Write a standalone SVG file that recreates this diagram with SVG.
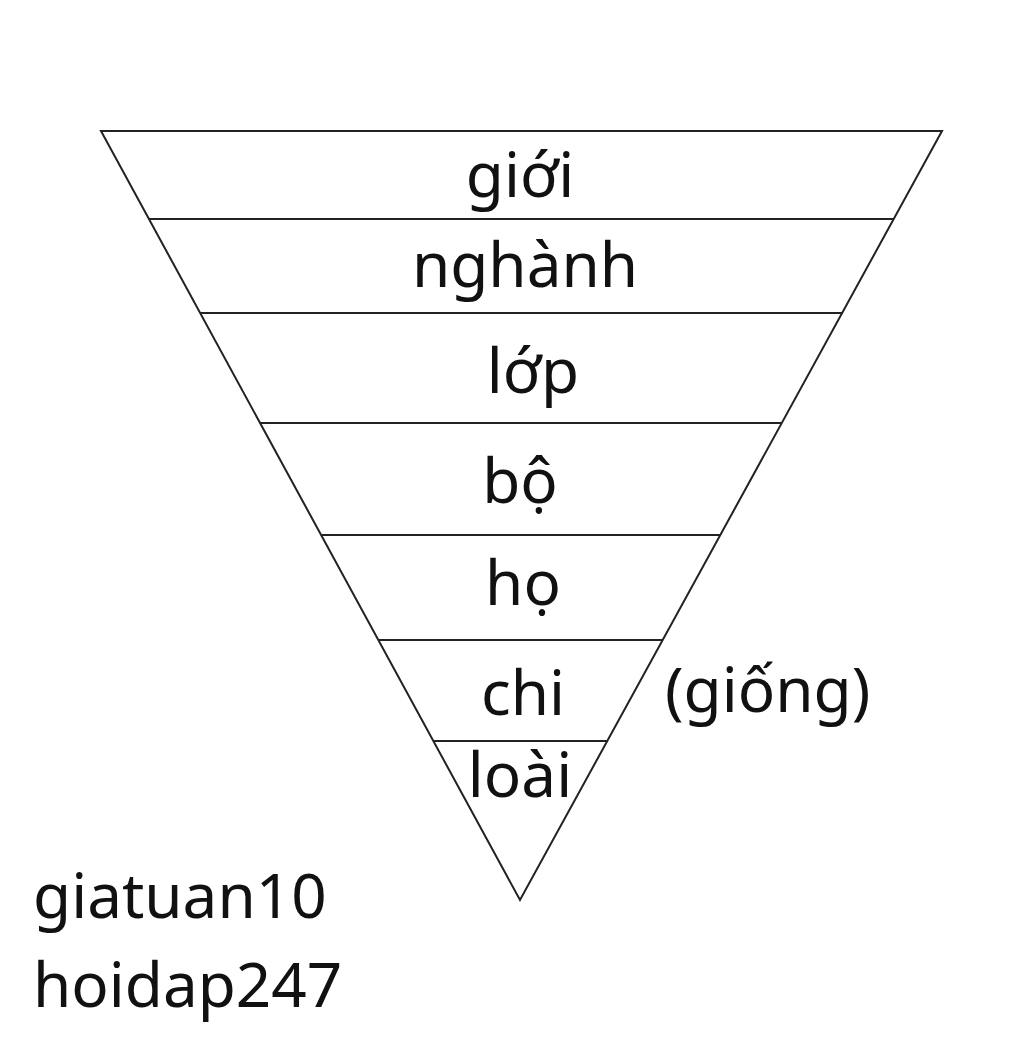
<svg xmlns="http://www.w3.org/2000/svg" width="1024" height="1058" viewBox="0 0 1024 1058">
<style>
.ln{stroke:#222;stroke-width:2;fill:none}
.t{font-family:"Noto Sans","Open Sans","DejaVu Sans",sans-serif;font-size:62px;fill:#111;text-anchor:middle}
.s{font-family:"Noto Sans","Open Sans","DejaVu Sans",sans-serif;font-size:62px;fill:#111}
</style>
<rect width="1024" height="1058" fill="#fff"/>
<g id="pyramid">
<polygon class="ln" points="101,131 942,131 520,900"/>
</g>
<g id="connectors">
<line class="ln" x1="149" y1="219" x2="894" y2="219"/>
<line class="ln" x1="200" y1="313" x2="843" y2="313"/>
<line class="ln" x1="260" y1="423" x2="782" y2="423"/>
<line class="ln" x1="322" y1="535" x2="721" y2="535"/>
<line class="ln" x1="379" y1="640" x2="663" y2="640"/>
<line class="ln" x1="434" y1="741" x2="608" y2="741"/>
</g>
<g id="n1"><text class="t" x="520" y="197">giới</text></g>
<g id="n2"><text class="t" x="525" y="287">nghành</text></g>
<g id="n3"><text class="t" x="533" y="393">lớp</text></g>
<g id="n4"><text class="t" x="520" y="503">bộ</text></g>
<g id="n5"><text class="t" x="523" y="605">họ</text></g>
<g id="n6"><text class="t" x="523" y="715">chi</text></g>
<g id="n7"><text class="t" x="520" y="797">loài</text></g>
<g id="n8"><text class="s" x="665" y="712">(giống)</text></g>
<g id="credit">
<text class="s" x="33" y="918">giatuan10</text>
<text class="s" x="33" y="1007">hoidap247</text>
</g>
</svg>
